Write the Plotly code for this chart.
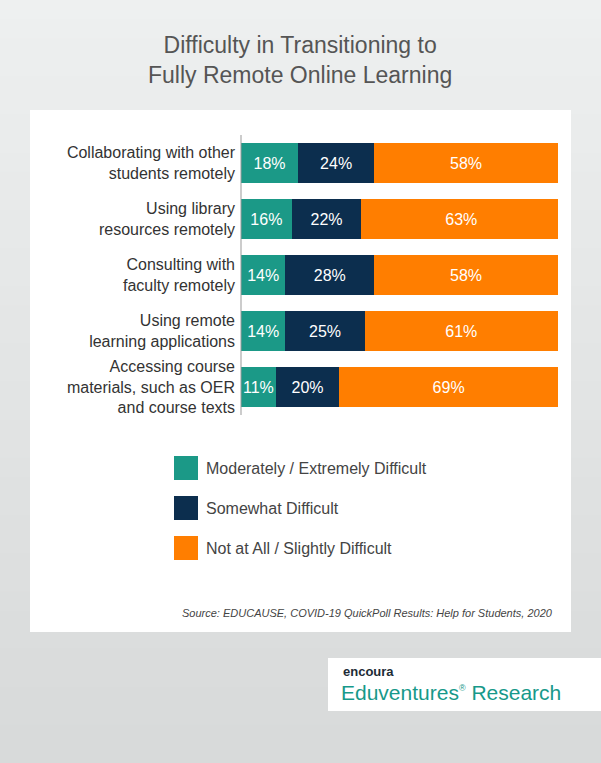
import plotly.graph_objects as go

categories = ['Collaborating with other<br>students remotely',
              'Using library<br>resources remotely',
              'Consulting with<br>faculty remotely',
              'Using remote<br>learning applications',
              'Accessing course<br>materials, such as OER<br>and course texts']
series = ['Moderately / Extremely Difficult', 'Somewhat Difficult', 'Not at All / Slightly Difficult']
moderately = [18, 16, 14, 14, 11]
somewhat = [24, 22, 28, 25, 20]
not_at_all = [58, 63, 58, 61, 69]
colors = ['#1b9987', '#0c2e4e', '#ff7e00']

W, H = 601, 763
L, R, T, B = 241, 558, 135, 415


def px(x):
    return (x - L) / (R - L)


def py(y):
    return (B - y) / (B - T)


fig = go.Figure()
for name, vals, c in zip(series, [moderately, somewhat, not_at_all], colors):
    fig.add_trace(go.Bar(
        y=categories, x=vals, name=name, orientation='h', marker_color=c,
        marker_line_width=0, width=0.72,
        text=[f'{v}%' for v in vals], textposition='inside', insidetextanchor='middle',
        textangle=0, constraintext='none',
        textfont=dict(color='white', size=16), showlegend=False))

shapes = []
# background gradient bands
n = 40
for i in range(n):
    g = int(238 - 22 * i / (n - 1))
    shapes.append(dict(type='rect', xref='paper', yref='paper', layer='below',
                       x0=px(0), x1=px(W), y0=py(H * i / n), y1=py(H * (i + 1) / n + 1),
                       fillcolor=f'rgb({g},{g+2},{g+2})', line_width=0))
# white card
shapes.append(dict(type='rect', xref='paper', yref='paper', layer='below',
                   x0=px(30), x1=px(571), y0=py(110), y1=py(632),
                   fillcolor='white', line_width=0))
# logo box
shapes.append(dict(type='rect', xref='paper', yref='paper', layer='below',
                   x0=px(328), x1=px(601), y0=py(658), y1=py(711),
                   fillcolor='white', line_width=0))
# axis line
shapes.append(dict(type='line', xref='paper', yref='paper',
                   x0=0, x1=0, y0=py(135), y1=py(415), line=dict(color='#999', width=1)))

annotations = [
    dict(text='Difficulty in Transitioning to<br>Fully Remote Online Learning', x=px(300), y=py(60),
         xanchor='center', font=dict(size=23, color='#555')),
    dict(text='<i>Source: EDUCAUSE, COVID-19 QuickPoll Results: Help for Students, 2020</i>',
         x=px(555), y=py(613), xanchor='right', font=dict(size=11, color='#444')),
    dict(text='<b>encoura</b>', x=px(341), y=py(671), xanchor='left',
         font=dict(size=13, color='#1d2b36')),
    dict(text='Eduventures<sup><span style="font-size:9px">®</span></sup> Research',
         x=px(339), y=py(692), xanchor='left', font=dict(size=21, color='#17998a')),
]
for i, (name, c) in enumerate(zip(series, colors)):
    yc = 468 + 40 * i
    shapes.append(dict(type='rect', xref='paper', yref='paper',
                       x0=px(174), x1=px(198), y0=py(yc - 12), y1=py(yc + 12),
                       fillcolor=c, line_width=0))
    annotations.append(dict(text=name, x=px(204), y=py(yc), xanchor='left',
                            font=dict(size=16, color='#444')))
for a in annotations:
    a.update(xref='paper', yref='paper', yanchor='middle', showarrow=False)

fig.update_layout(
    width=W, height=H, margin=dict(l=L, r=W - R, t=T, b=H - B),
    barmode='stack', paper_bgcolor='#e4e7e7', plot_bgcolor='rgba(0,0,0,0)',
    font=dict(family='Liberation Sans, Arial', color='#333'),
    xaxis=dict(range=[0, 100], visible=False),
    yaxis=dict(autorange='reversed', tickfont=dict(size=16, color='#333'),
               showline=False, showgrid=False, ticks='', ticklabelstandoff=5),
    shapes=shapes, annotations=annotations,
)

fig.write_html('out.html', config={'displayModeBar': False},
               post_script="document.body.style.margin='0';")
